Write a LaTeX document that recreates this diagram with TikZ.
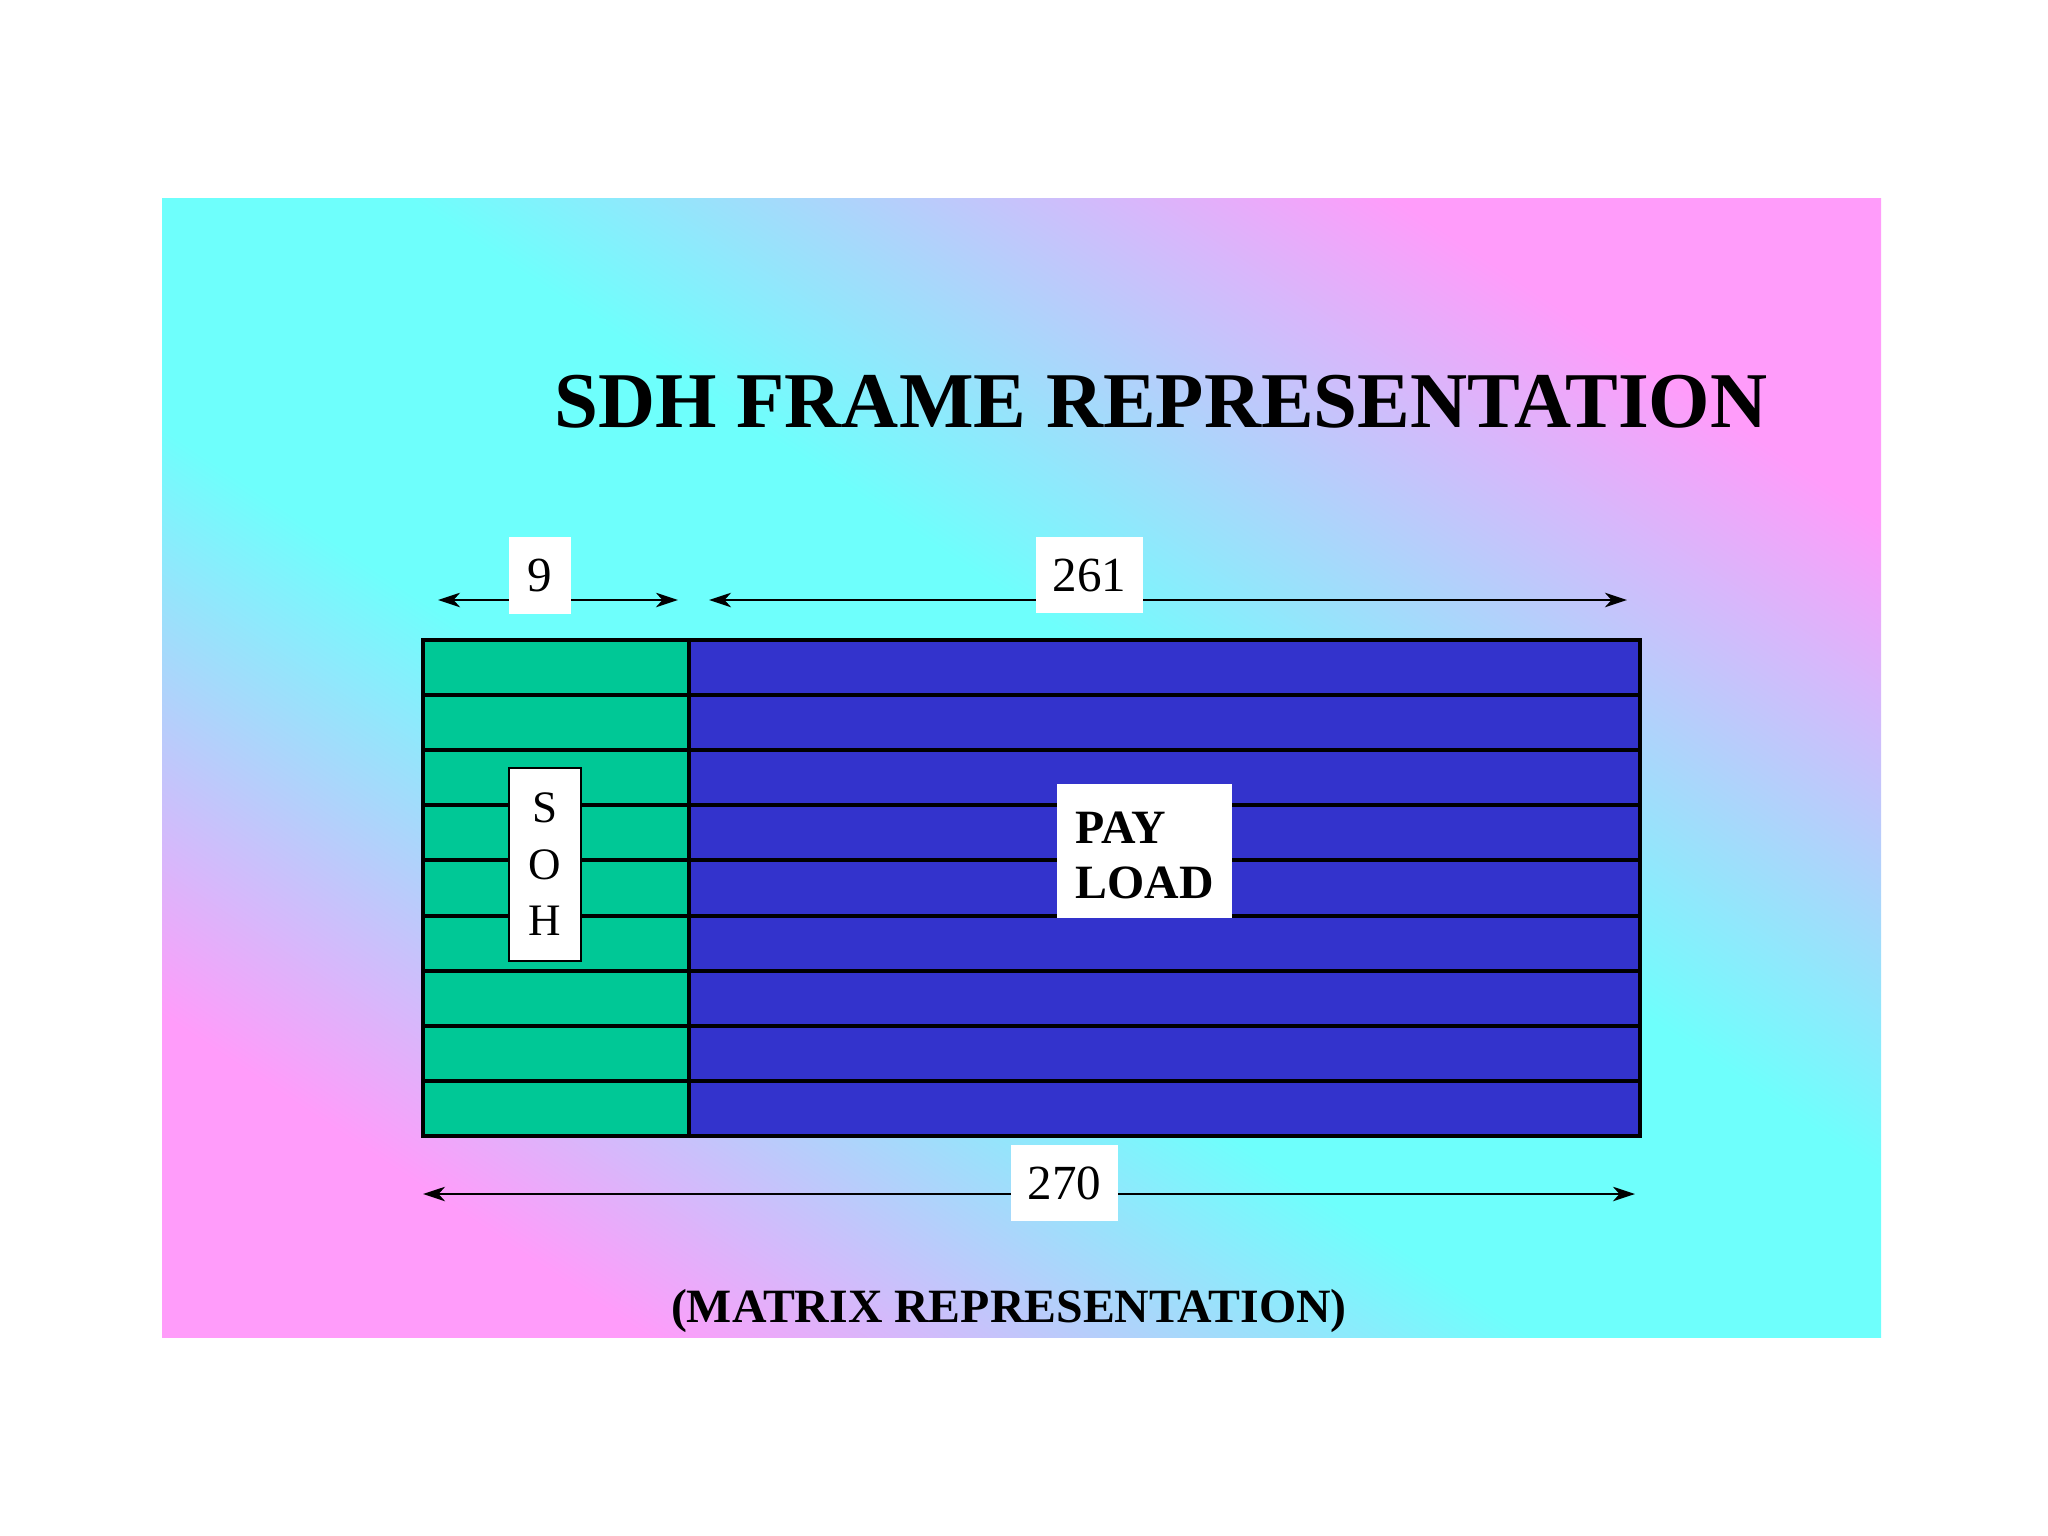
\documentclass[tikz,border=0pt]{standalone}
\usepackage{fontspec}
\setmainfont{Liberation Serif}
\usepackage{tikz}
\usetikzlibrary{arrows.meta,positioning}
\definecolor{bgcyan}{RGB}{110,255,252}
\definecolor{bgpink}{RGB}{255,156,250}
\definecolor{sohgreen}{RGB}{0,200,150}
\definecolor{loadblue}{RGB}{51,51,204}
\pgfdeclareverticalshading{bgband}{100bp}{color(0bp)=(bgpink); color(25bp)=(bgpink);
	color(43bp)=(bgcyan); color(55bp)=(bgcyan); color(75bp)=(bgpink); color(100bp)=(bgpink)}
\tikzset{
	sohcell/.style = {draw=black, fill=sohgreen, line width=1mm},
	loadcell/.style = {draw=black, fill=loadblue, line width=1mm},
	dimarrow/.style = {draw, line width=0.55mm,
		{Stealth[length=5.5mm,width=3.6mm,inset=1.6mm]}-{Stealth[length=5.5mm,width=3.6mm,inset=1.6mm]}},
	numbox/.style = {fill=white, inner sep=0pt, minimum height=19mm,
		font=\fontsize{34.9}{40}\selectfont},
}
\begin{document}
\begin{tikzpicture}[x=0.25mm, y=-0.25mm]
	\useasboundingbox (0,0) rectangle (2048,1536);
	%background
	\shade[shading=bgband, shading angle=-33.5] (162,198) rectangle (1881,1337);
	%Title
	\node[anchor=base, font=\fontsize{56.2}{60}\selectfont\bfseries] (title) at (1161,427) {SDH FRAME REPRESENTATION};
	%Frame rows
	\foreach \r in {0,...,8}{
		\draw[sohcell] (423,{640+55.1*\r}) rectangle (689,{640+55.1*(\r+1)});
		\draw[loadcell] (689,{640+55.1*\r}) rectangle (1640,{640+55.1*(\r+1)});
	}
	%Lines
	\coordinate (nineL) at (438,600);
	\coordinate (nineR) at (678,600);
	\coordinate (loadL) at (709,600);
	\coordinate (loadR) at (1627,600);
	\coordinate (frameL) at (423,1194);
	\coordinate (frameR) at (1635,1194);
	\draw[dimarrow] (nineL) -- (nineR);
	\draw[dimarrow] (loadL) -- (loadR);
	\draw[dimarrow] (frameL) -- (frameR);
	%Nodes
	\node[numbox, minimum width=15.5mm, minimum height=19.25mm] (nine) at (539.5,575.5) {9};
	\node[numbox, minimum width=26.75mm] (twosixone) at (1089.5,575) {261};
	\node[numbox, minimum width=26.75mm] (twoseventy) at (1064.5,1183) {270};
	\node[draw, line width=0.35mm, fill=white, minimum width=18mm, minimum height=48.25mm, inner sep=0pt, align=center,
		font=\fontsize{32}{40.2}\selectfont] (soh) at (545,864.5) {S\\O\\H};
	\node[fill=white, minimum width=43.75mm, minimum height=33.5mm, inner sep=0pt, align=left,
		font=\fontsize{34}{39.1}\selectfont\bfseries] (payload) at (1144.5,851) {};
	\node[align=left, inner sep=0pt, font=\fontsize{34}{39.1}\selectfont\bfseries] (payloadtext) at (1144.5,855) {PAY\\LOAD};
	\node[anchor=base, font=\fontsize{34}{40}\selectfont\bfseries] (caption) at (1009,1322) {(MATRIX REPRESENTATION)};
\end{tikzpicture}
\end{document}
